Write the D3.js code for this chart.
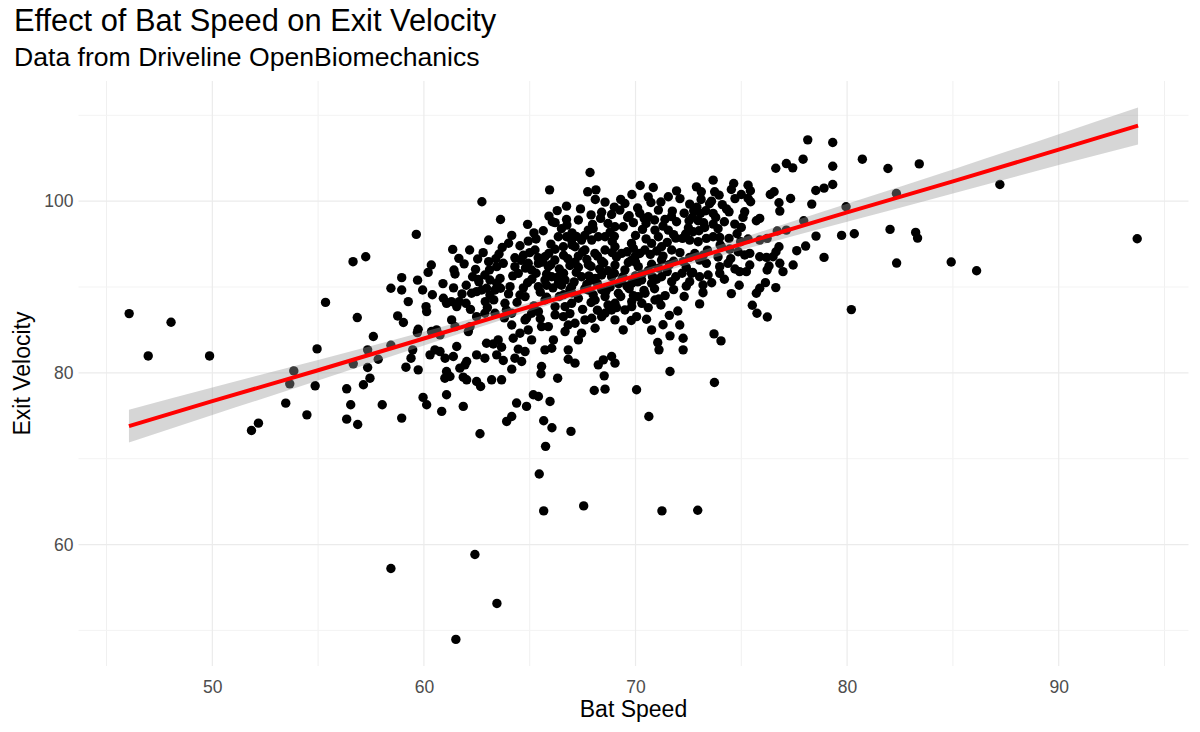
<!DOCTYPE html>
<html>
<head>
<meta charset="utf-8">
<script src="https://cdn.jsdelivr.net/npm/d3@7"></script>
<style>
  body { margin: 0; background: #fff; }
  svg { display: block; font-family: "Liberation Sans", Arial, sans-serif; }
</style>
</head>
<body>
<script>
// swings: [bat speed, exit velocity]
var swings = [
  [46.07,86.90],[48.05,85.89],[46.97,81.97],[49.87,81.97],[55.35,88.21],[54.95,82.79],[53.85,80.23],
  [53.66,78.72],[54.86,78.49],[53.47,76.47],[54.47,75.11],[52.18,74.14],[51.85,73.29],
  [80.72,104.89],[81.93,103.80],[83.41,104.34],[87.22,101.94],[82.33,100.89],[79.95,99.35],[80.34,96.20],
  [82.03,96.71],[83.24,96.36],[83.33,95.70],[93.71,95.62],[82.34,92.79],[84.92,92.91],[86.12,91.90],[80.20,87.37],
  [78.14,107.14],[79.32,106.83],[76.63,103.84],[77.13,104.38],[77.43,103.88],[77.92,104.89],[79.32,104.07],
  [79.32,101.94],[78.91,101.52],[78.52,101.24],[78.33,99.66],[76.55,101.10],[76.37,100.78],[76.78,99.81],
  [76.82,98.84],[77.33,100.31],[77.95,97.72],[77.13,96.63],[76.70,96.52],[78.53,95.93],[79.74,96.01],
  [78.04,94.77],[77.62,94.23],[78.91,93.45],[76.78,94.69],[76.64,94.11],[76.19,93.45],[76.31,92.45],
  [76.82,92.76],[77.45,92.56],
  [72.88,101.67],[73.11,101.09],[73.67,102.45],[73.74,101.09],[73.95,100.70],[73.59,100.00],[72.56,99.66],
  [74.64,102.06],[74.53,101.36],[75.32,101.86],[75.43,101.21],[75.00,100.78],[75.32,100.31],[75.44,99.93],
  [75.87,97.99],[75.71,97.72],[75.16,98.76],[75.08,98.11],[74.69,97.33],[75.00,96.94],[74.42,98.76],
  [73.79,98.11],[73.67,98.57],[73.67,97.33],[73.32,98.88],[73.07,98.57],[72.75,98.88],[72.69,98.11],
  [72.53,97.72],[72.96,97.72],[73.22,97.48],[73.27,96.94],[73.00,96.55],[72.72,96.44],[72.37,96.17],
  [72.22,95.66],[72.56,95.47],[72.96,95.28],[73.35,95.66],[73.67,95.86],[73.98,95.78],[74.42,95.66],
  [74.97,95.28],[75.32,95.59],[75.87,95.47],[76.22,95.66],[74.06,94.69],[74.45,94.42],[74.85,94.11],
  [75.40,93.92],[75.87,93.53],[75.16,93.73],[76.50,93.53],[74.37,92.76],[73.98,92.37],[73.35,92.76],
  [73.03,93.14],[72.56,93.45],[72.25,92.95],[75.40,92.56],
  [62.74,99.93],[63.62,97.87],[59.64,96.13],[63.06,95.47],[61.36,94.38],[62.16,94.31],[57.25,93.53],
  [56.65,92.95],[61.65,93.34],[62.54,93.26],[63.06,92.95],[63.55,93.84],[60.35,92.56],[61.42,91.98],
  [62.44,92.06],[63.44,92.37],[63.75,92.76],
  [67.85,103.34],[65.94,101.32],[67.74,101.09],[68.13,101.32],[68.56,99.89],[66.74,99.42],[65.91,98.26],
  [66.07,97.60],[66.74,97.87],[66.76,97.21],[65.64,96.55],[64.15,96.01],[64.93,95.35],[64.54,94.81],
  [70.22,101.83],[70.84,101.59],[69.83,100.78],[71.94,101.20],[71.55,100.51],[70.73,99.85],[69.50,99.73],
  [69.26,98.96],[69.63,98.11],[68.87,98.45],[68.35,97.99],[67.97,97.29],[67.77,96.63],[71.08,98.96],
  [71.74,98.84],[70.60,98.18],[70.41,97.99],[71.39,97.87],[70.33,96.71],[69.42,97.02],[69.03,97.02],
  [68.56,95.86],[69.81,95.08],[70.92,96.63],[71.08,95.86],[71.55,96.63],[71.94,97.60],[66.35,95.86],
  [66.74,95.86],[66.98,95.47],[67.45,95.47],[67.93,95.47],[68.24,95.86],[65.25,94.31],[65.72,93.53],
  [66.19,93.14],[66.59,94.69],[67.14,94.69],[67.61,94.31],[68.08,93.92],[68.56,94.31],[69.03,94.69],
  [69.34,93.92],[69.97,93.53],[70.44,94.31],[70.76,95.08],[71.23,94.69],[71.71,94.31],[64.30,92.37],
  [64.93,92.76],[65.41,92.76],[65.88,92.37],[67.14,92.90],[67.77,92.60],[68.40,93.00],[69.03,92.55],
  [69.66,92.85],[70.13,92.37],[70.76,92.65],[71.23,93.14],
  [58.95,91.09],[58.44,89.85],[58.95,89.65],[59.94,89.65],[59.26,88.30],[60.10,87.72],[60.13,87.14],
  [56.85,86.44],[58.76,86.63],[59.03,85.86],[59.73,85.08],[59.69,84.69],[57.61,84.23],[58.44,83.22],
  [57.34,82.68],[57.84,81.59],[56.66,81.05],[57.34,80.62],[59.47,82.68],[59.39,81.71],[59.15,80.66],
  [59.73,80.35],[57.45,79.38],[57.14,78.61],[56.35,78.14],[56.54,76.28],[58.03,76.28],[59.96,77.14],
  [60.92,88.69],[61.07,88.10],[61.55,87.72],[61.67,88.30],[61.99,88.10],[62.25,89.27],[62.49,89.46],
  [62.73,89.65],[62.96,89.85],[63.12,89.07],[63.36,89.65],[63.44,90.43],[63.62,89.85],[61.31,86.17],
  [62.49,86.55],[62.88,86.94],[63.36,86.94],[62.10,84.81],[62.18,85.39],[61.47,85.39],[60.60,85.00],
  [60.36,84.81],[60.76,84.42],[60.52,82.68],[60.76,82.48],[60.29,82.10],[61.00,81.71],[61.39,81.90],
  [61.55,83.07],[62.02,81.32],[62.49,82.10],[62.88,81.71],[62.96,83.45],[63.28,83.37],[63.51,83.84],
  [63.67,82.99],[63.44,82.10],[63.75,81.44],[61.70,80.55],[61.94,80.93],[61.07,80.16],[61.23,79.58],
  [60.99,79.38],[61.86,79.50],[62.02,79.19],[62.49,78.99],[62.68,78.41],[63.20,79.19],[63.67,79.19],
  [61.07,77.45],[60.13,76.28],[61.86,76.09],[62.88,91.40],[62.57,90.89],[63.12,90.82],[61.47,91.51],
  [64.46,91.59],[65.09,91.98],[64.07,90.04],[64.54,89.07],[64.78,88.88],[65.41,90.04],[65.72,90.82],
  [66.04,91.20],[66.35,90.43],[66.67,90.82],[66.98,90.04],[67.45,91.20],[67.93,90.82],[68.40,91.40],
  [68.87,91.20],[69.34,90.82],[69.82,90.43],[70.29,90.82],[70.76,90.43],[71.23,91.20],[71.71,90.62],
  [70.45,89.27],[70.92,88.49],[70.13,88.88],[69.82,88.30],[69.19,89.27],[69.03,88.10],[68.56,88.88],
  [68.09,88.49],[67.77,89.65],[67.30,88.69],[66.98,88.10],[66.67,87.72],[66.20,87.72],[65.72,88.49],
  [65.41,87.14],[65.09,86.94],[64.78,86.17],[64.15,86.94],[63.83,88.10],[64.15,85.58],[64.85,86.36],
  [65.56,85.39],[65.88,85.39],[66.20,86.75],[66.59,86.55],[66.82,85.58],[66.67,84.81],[67.14,85.78],
  [67.61,86.17],[67.93,86.36],[68.09,85.20],[67.45,84.62],[67.30,83.84],[68.40,86.55],[68.56,86.94],
  [68.87,87.33],[69.03,86.17],[69.42,85.00],[69.50,87.33],[69.82,87.72],[70.05,86.55],[70.52,86.24],
  [70.76,85.00],[71.05,83.53],[71.11,82.68],[71.63,84.31],[64.22,84.03],[64.54,84.62],[64.93,85.00],
  [65.09,83.84],[64.46,82.76],[64.78,82.48],[64.30,81.71],[64.62,81.32],[64.15,80.43],[65.56,80.74],
  [65.53,79.89],[66.32,79.38],[65.72,82.68],[66.12,83.84],[66.04,82.87],[66.82,82.68],[66.82,81.59],
  [67.14,81.13],[68.24,80.93],[68.48,81.51],[68.87,81.90],[69.03,81.13],[68.52,79.65],[68.05,77.95],
  [68.56,78.10],[70.05,78.03],[71.63,80.16],[64.38,76.48],[64.85,76.09],[65.17,77.45],[65.41,77.25],
  [65.96,76.67],
  [72.64,91.59],[73.03,91.20],[73.43,91.40],[73.98,91.59],[74.92,91.79],[75.24,91.79],[76.22,91.98],
  [76.97,91.79],[72.56,90.62],[73.19,90.24],[73.19,89.34],[73.03,88.03],[74.53,89.23],[76.14,90.51],
  [75.87,89.85],[75.71,89.27],[76.63,89.93],[75.52,87.87],[75.74,86.94],[76.23,86.51],[72.09,85.58],
  [72.25,84.03],[72.25,82.68],[73.71,84.54],[74.04,83.72],[73.73,78.88],
  [56.35,74.61],[56.87,73.99],[58.95,74.73],[60.84,75.51],[62.65,72.91],
  [64.15,74.92],[63.91,74.34],[65.66,74.42],[66.05,73.61],[66.95,73.18],[65.75,71.44],[65.45,68.22],
  [65.66,63.92],[67.55,64.50],[71.25,63.92],[70.63,74.92],[72.94,63.99],
  [58.44,57.21],[62.41,58.84],[63.45,53.14],[61.51,48.95],
  [64.6,93.1],[65.0,94.0],[65.3,91.6],[65.9,93.9],[66.4,92.1],[66.8,93.3],[67.2,91.7],[67.5,94.1],
  [67.9,92.4],[68.2,93.6],[68.7,91.9],[69.1,93.5],[69.5,92.0],[69.9,94.5],[70.3,91.5],[70.7,93.8],
  [71.1,92.2],[71.5,95.2],[71.8,93.0],[64.2,91.3],[64.9,90.5],[65.5,89.4],[66.1,89.9],[66.6,91.6],
  [67.0,89.3],[67.7,90.3],[68.0,89.1],[68.8,90.0],[69.3,88.9],[69.7,89.8],[70.1,90.6],[70.9,89.8],
  [71.4,89.0],[71.9,91.2],[72.4,90.1],[63.3,88.5],[63.9,87.3],[64.4,88.2],[65.2,87.8],[66.4,88.9],
  [67.5,87.4],[68.7,87.9],[70.6,87.6],[71.6,86.7],[72.3,88.9],[66.0,95.0],[67.0,96.3],[68.0,96.8],
  [69.0,95.9],[70.0,96.0],[70.5,97.4],[71.3,97.1],[69.7,98.3],[68.4,98.7],[67.3,97.8],[65.3,95.6],
  [62.9,88.3],[62.2,87.4],[61.8,89.2],[63.6,91.0],[62.6,90.6],
  [64.8,92.2],[65.6,92.9],[66.2,94.4],[66.9,92.5],[67.3,93.6],[67.8,91.3],[68.3,92.1],[68.9,94.0],
  [69.4,91.2],[69.8,93.1],[70.2,93.9],[70.6,91.9],[71.0,94.2],[71.6,92.6],[72.1,94.0],[72.8,93.9],
  [73.4,94.3],[73.9,93.5],[74.5,93.3],[65.1,90.9],[65.8,91.5],[66.5,90.2],[67.1,90.6],[67.6,89.8],
  [68.2,90.4],[68.6,89.5],[69.0,91.6],[69.6,90.1],[70.4,89.6],[71.0,90.9],[71.8,89.7],[72.7,91.7],
  [73.6,90.5],[74.2,90.9],[74.9,90.2],[64.0,89.2],[64.7,89.9],[65.8,88.8],[66.6,89.1],[67.9,88.2],
  [69.1,87.6],[70.3,88.1],[71.2,87.9],[72.0,87.2],[63.0,87.6],[63.8,86.4],[65.5,86.3],[66.9,86.9],
  [68.2,87.3],[69.8,86.1],[71.3,85.6],[65.2,96.3],[66.5,96.8],[67.6,96.0],[68.8,96.4],[69.9,97.5],
  [70.9,97.8],[71.8,96.1],[72.3,98.6],[72.9,99.3],[73.5,99.7],[74.2,97.6],[74.8,96.2],[66.3,98.9],
  [67.4,99.1],[68.1,100.2],[69.0,99.3],[70.1,99.2],[71.2,99.9],[72.1,100.3],[74.1,99.6],[74.7,100.3],
  [64.7,93.7],[63.7,94.6],[62.8,94.0],[61.9,92.7],[62.3,91.2],[60.9,90.4],[61.4,89.9],[60.4,89.1],
  [59.7,90.8],[60.2,91.7],
  [65.4,93.4],[66.0,92.6],[66.6,93.7],[67.0,94.9],[67.7,93.2],[68.5,92.8],[68.9,95.3],[69.6,94.1],
  [70.0,92.9],[70.5,95.6],[71.3,93.6],[71.9,95.7],[72.4,92.3],[65.8,90.2],[66.3,91.1],[67.3,92.3],
  [68.1,91.0],[69.2,90.4],[70.0,91.3],[70.8,91.2],[71.5,91.8],[72.2,91.6],[66.9,89.7],[68.4,89.7],
  [69.9,89.0],[71.1,88.6],[67.2,95.9],[68.7,97.4],[70.2,98.6],[71.7,98.2],[72.5,96.9],[73.1,100.2],
  [73.9,96.8],[74.3,99.1],[73.2,93.7],[74.0,94.9],[74.7,92.1],[66.2,97.5],[67.9,98.4],[69.3,100.2],
  [70.6,100.5],[64.9,97.3],[64.3,93.4],[63.4,93.3],[62.0,90.2],[61.3,88.3],[63.1,92.0],[64.0,95.1]
];

// linear fit with 95% band
var smoothX    = [46.06, 50, 55, 60, 65, 70, 75, 80, 85, 90, 93.75];
var smoothFit  = [73.8, 76.7, 80.3, 84.0, 87.7, 91.3, 95.0, 98.7, 102.3, 106.0, 108.8];
var smoothLow  = [71.9, 75.1, 79.1, 83.2, 87.2, 90.9, 94.3, 97.6, 100.9, 104.2, 106.6];
var smoothHigh = [75.7, 78.3, 81.5, 84.8, 88.2, 91.8, 95.7, 99.7, 103.7, 107.8, 110.9];

var xMajor = [50, 60, 70, 80, 90],
    xMinor = [45, 55, 65, 75, 85, 95],
    yMajor = [60, 80, 100],
    yMinor = [50, 70, 90, 110];

var W = 1200, H = 732;
var margin = {top: 81, right: 11.5, bottom: 66, left: 78.5};

var svg = d3.select("body").append("svg")
    .attr("width", W)
    .attr("height", H);

// ggplot style 5% expansion on both axes
function expand(ext) {
  var pad = (ext[1] - ext[0]) * 0.05;
  return [ext[0] - pad, ext[1] + pad];
}

var xExt = d3.extent(swings.map(function(d) { return d[0]; }).concat(smoothX));
var yExt = d3.extent(swings.map(function(d) { return d[1]; }).concat(smoothLow, smoothHigh));

var x = d3.scaleLinear().domain(expand(xExt)).range([margin.left, W - margin.right]);
var y = d3.scaleLinear().domain(expand(yExt)).range([H - margin.bottom, margin.top]);

var grid = svg.append("g");
grid.selectAll(".xminor").data(xMinor.filter(function(v) { return v >= x.domain()[0] && v <= x.domain()[1]; }))
  .enter().append("line")
    .attr("x1", function(d) { return x(d); }).attr("x2", function(d) { return x(d); })
    .attr("y1", y.range()[1]).attr("y2", y.range()[0])
    .attr("stroke", "#f0f0f0").attr("stroke-width", 1);
grid.selectAll(".yminor").data(yMinor.filter(function(v) { return v >= y.domain()[0] && v <= y.domain()[1]; }))
  .enter().append("line")
    .attr("x1", x.range()[0]).attr("x2", x.range()[1])
    .attr("y1", function(d) { return y(d); }).attr("y2", function(d) { return y(d); })
    .attr("stroke", "#f3f3f3").attr("stroke-width", 1);
grid.selectAll(".xmajor").data(xMajor)
  .enter().append("line")
    .attr("x1", function(d) { return x(d); }).attr("x2", function(d) { return x(d); })
    .attr("y1", y.range()[1]).attr("y2", y.range()[0])
    .attr("stroke", "#ebebeb").attr("stroke-width", 1.2);
grid.selectAll(".ymajor").data(yMajor)
  .enter().append("line")
    .attr("x1", x.range()[0]).attr("x2", x.range()[1])
    .attr("y1", function(d) { return y(d); }).attr("y2", function(d) { return y(d); })
    .attr("stroke", "#ebebeb").attr("stroke-width", 1.2);

// points
svg.append("g").selectAll("circle").data(swings)
  .enter().append("circle")
    .attr("cx", function(d) { return x(d[0]); })
    .attr("cy", function(d) { return y(d[1]); })
    .attr("r", 4.7)
    .attr("fill", "#000");

// confidence band + fit
var band = smoothX.map(function(v, i) { return {x: v, lo: smoothLow[i], hi: smoothHigh[i], fit: smoothFit[i]}; });

svg.append("path")
    .datum(band)
    .attr("d", d3.area()
        .x(function(d) { return x(d.x); })
        .y0(function(d) { return y(d.lo); })
        .y1(function(d) { return y(d.hi); })
        .curve(d3.curveMonotoneX))
    .attr("fill", "#999999")
    .attr("fill-opacity", 0.4);

svg.append("path")
    .datum(band)
    .attr("d", d3.line()
        .x(function(d) { return x(d.x); })
        .y(function(d) { return y(d.fit); }))
    .attr("fill", "none")
    .attr("stroke", "#ff0000")
    .attr("stroke-width", 4);

// axes (text only, theme_minimal)
var xAxis = svg.append("g")
    .attr("transform", "translate(0," + (H - margin.bottom) + ")")
    .call(d3.axisBottom(x).tickValues(xMajor).tickSize(0).tickPadding(15));
var yAxis = svg.append("g")
    .attr("transform", "translate(" + margin.left + ",0)")
    .call(d3.axisLeft(y).tickValues(yMajor).tickSize(0).tickPadding(5));
[xAxis, yAxis].forEach(function(a) {
  a.select(".domain").remove();
  a.selectAll("text")
    .attr("fill", "#4d4d4d")
    .style("font-size", "17.5px")
    .style("font-family", "'Liberation Sans', Arial, sans-serif");
});

svg.append("text")
    .attr("x", (x.range()[0] + x.range()[1]) / 2)
    .attr("y", 717)
    .attr("text-anchor", "middle")
    .style("font-size", "23px")
    .text("Bat Speed");

svg.append("text")
    .attr("transform", "translate(30," + ((y.range()[0] + y.range()[1]) / 2) + ") rotate(-90)")
    .attr("text-anchor", "middle")
    .style("font-size", "23px")
    .text("Exit Velocity");

svg.append("text")
    .attr("x", 14)
    .attr("y", 31)
    .style("font-size", "30.8px")
    .text("Effect of Bat Speed on Exit Velocity");

svg.append("text")
    .attr("x", 14)
    .attr("y", 66)
    .style("font-size", "26.6px")
    .text("Data from Driveline OpenBiomechanics");
</script>
</body>
</html>
